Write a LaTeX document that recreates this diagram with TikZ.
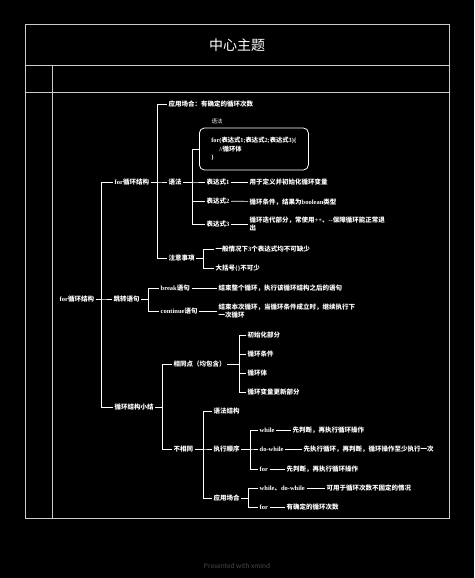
\documentclass[tikz,border=0pt]{standalone}
\usepackage{fontspec}
\setmainfont{Noto Sans CJK SC}
\newfontfamily\enfont{Liberation Serif}
\newcommand{\en}[1]{{\enfont #1}}
\usetikzlibrary{positioning}

\tikzset{
  topic/.style={anchor=west, inner sep=1.5pt, text=white, align=left,
    font=\fontsize{6.5}{8.5}\selectfont\bfseries},
  link/.style={draw=white, line width=0.7pt},
  frame/.style={draw=black!20, line width=0.9pt},
}

\begin{document}
\begin{tikzpicture}[x=1pt,y=-1pt]
    \useasboundingbox (0,0) rectangle (474,578);
    \fill[black] (0,0) rectangle (474,578);

    % outer frame
    \draw[frame] (25,24) rectangle (449,518);
    \draw[frame] (25,65) -- (449,65);
    \draw[frame] (25,92) -- (449,92);
    \draw[frame] (52,65) -- (52,518);
    \node[text=white, font=\fontsize{14}{16}\selectfont] (title) at (237,45) {中心主题};

    % level 0 and 1
    \node[topic] (root) at (58,299) {\en{for}循环结构};
    \node[topic] (forl) at (113,182) {\en{for}循环结构};
    \node[topic] (jump) at (112,299) {跳转语句};
    \node[topic] (summ) at (113,407) {循环结构小结};

    % for structure
    \node[topic] (use) at (167,104) {应用场合：有确定的循环次数};
    \node[topic] (syn) at (167,182) {语法};
    \node[topic] (note) at (167,258) {注意事项};
    \node[draw=white, line width=0.8pt, rounded corners=5pt, anchor=west,
      minimum width=109, minimum height=42, inner xsep=0pt, align=left,
      text=white, font=\fontsize{6.3}{8.5}\selectfont\bfseries]
      (code) at (199,149) {\en{for(}表达式\en{1;}表达式\en{2;}表达式\en{3)\{}\\
      \hspace*{8pt}\en{//}循环体\\ \en{\}}};
    \node[text=white, inner sep=0pt, font=\fontsize{5.5}{6}\selectfont] (codetag) at (217,121) {语法};
    \node[topic] (ex1) at (205,182) {表达式\en{1}};
    \node[topic] (ex2) at (205,201) {表达式\en{2}};
    \node[topic] (ex3) at (205,224) {表达式\en{3}};
    \node[topic] (ex1d) at (248,182) {用于定义并初始化循环变量};
    \node[topic] (ex2d) at (248,202) {循环条件，结果为\en{boolean}类型};
    \node[topic] (ex3d) at (248,224) {循环迭代部分，常使用\en{++}、\en{-{}-}保障循环能正常退\\出};
    \node[topic] (note1) at (214,249) {一般情况下\en{3}个表达式均不可缺少};
    \node[topic] (note2) at (214,268) {大括号\en{\{\}}不可少};

    % jump statements
    \node[topic] (brk) at (159,288) {\en{break}语句};
    \node[topic] (cont) at (159,311) {\en{continue}语句};
    \node[topic] (brkd) at (217,288) {结束整个循环，执行该循环结构之后的语句};
    \node[topic] (contd) at (217,311) {结束本次循环，当循环条件成立时，继续执行下\\一次循环};

    % summary
    \node[topic] (same) at (172,364) {相同点（均包含）};
    \node[topic] (same1) at (246,335) {初始化部分};
    \node[topic] (same2) at (246,354) {循环条件};
    \node[topic] (same3) at (246,373) {循环体};
    \node[topic] (same4) at (246,392) {循环变量更新部分};
    \node[topic] (diff) at (172,449) {不相同};
    \node[topic] (diff1) at (212,411) {语法结构};
    \node[topic] (diff2) at (212,449) {执行顺序};
    \node[topic] (diff3) at (212,498) {应用场合};
    \node[topic] (ord1) at (258,430) {\en{while}};
    \node[topic] (ord2) at (258,449) {\en{do-while}};
    \node[topic] (ord3) at (258,469) {\en{for}};
    \node[topic] (ord1d) at (291,430) {先判断，再执行循环操作};
    \node[topic] (ord2d) at (302,449) {先执行循环，再判断，循环操作至少执行一次};
    \node[topic] (ord3d) at (285,469) {先判断，再执行循环操作};
    \node[topic] (app1) at (258,488) {\en{while}、\en{do-while}};
    \node[topic] (app2) at (258,507) {\en{for}};
    \node[topic] (app1d) at (325,488) {可用于循环次数不固定的情况};
    \node[topic] (app2d) at (285,507) {有确定的循环次数};

    % brackets
    \foreach \c in {forl,jump,summ} \draw[link] (root.east) -- ++(6,0) |- (\c.west);
    \foreach \c in {use,syn,note} \draw[link] (forl.east) -- ++(7,0) |- (\c.west);
    \foreach \c in {code,ex1,ex2,ex3} \draw[link] (syn.east) -- ++(9,0) |- (\c.west);
    \foreach \c in {note1,note2} \draw[link] (note.east) -- ++(7,0) |- (\c.west);
    \foreach \c in {brk,cont} \draw[link] (jump.east) -- ++(7,0) |- (\c.west);
    \foreach \c in {same,diff} \draw[link] (summ.east) -- ++(7,0) |- (\c.west);
    \foreach \c in {same1,same2,same3,same4} \draw[link] (same.east) -- ++(12,0) |- (\c.west);
    \foreach \c in {diff1,diff2,diff3} \draw[link] (diff.east) -- ++(8,0) |- (\c.west);
    \foreach \c in {ord1,ord2,ord3} \draw[link] (diff2.east) -- ++(9,0) |- (\c.west);
    \foreach \c in {app1,app2} \draw[link] (diff3.east) -- ++(7,0) |- (\c.west);

    % leaf links
    \draw[link] (ex1) -- (ex1d);
    \draw[link] (ex2) -- (ex2d);
    \draw[link] (ex3) -- (ex3d);
    \draw[link] (brk) -- (brkd);
    \draw[link] (cont) -- (contd);
    \draw[link] (ord1) -- (ord1d);
    \draw[link] (ord2) -- (ord2d);
    \draw[link] (ord3) -- (ord3d);
    \draw[link] (app1) -- (app1d);
    \draw[link] (app2) -- (app2d);

    \node[text=black!70, font=\fontsize{6.5}{8}\selectfont] (credit) at (237,566) {Presented with xmind};
\end{tikzpicture}
\end{document}
